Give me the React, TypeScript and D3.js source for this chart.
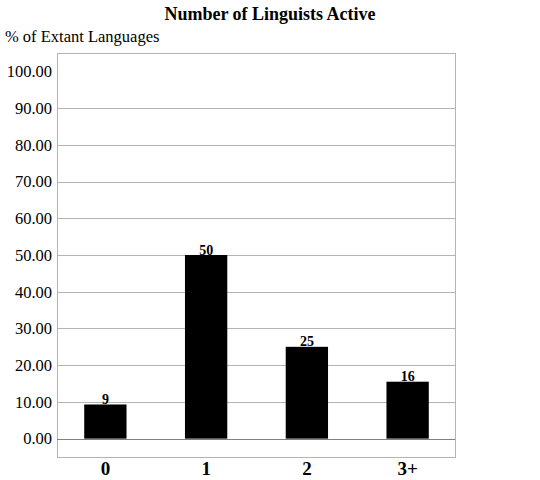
import { useEffect, useRef } from 'react';
import * as d3 from 'd3';

const categories = ['0', '1', '2', '3+'];
const values = [9.3, 50, 25, 15.5];
const yTicks = [0, 10, 20, 30, 40, 50, 60, 70, 80, 90, 100];

export default function App() {
  const svgRef = useRef<SVGSVGElement>(null);
  const width = 540;
  const height = 480;
  const left = 57;
  const right = 455;
  const top = 53;
  const bottom = 457;

  useEffect(() => {
    if (!svgRef.current) return;
    const svg = d3.select(svgRef.current);
    svg.selectAll('*').remove();

    const font = '"Liberation Serif", "Times New Roman", serif';

    const x = d3.scaleBand<string>()
      .domain(categories)
      .range([55, 458])
      .paddingInner(0.58)
      .paddingOuter(0.29);

    const y = d3.scaleLinear()
      .domain([-5, 105])
      .range([bottom, top]);

    // plot frame
    svg.append('rect')
      .attr('x', left + 0.5)
      .attr('y', top + 0.5)
      .attr('width', right - left)
      .attr('height', bottom - top)
      .attr('fill', 'white')
      .attr('stroke', '#b4b4b4')
      .attr('stroke-width', 1);

    // gridlines
    svg.append('g')
      .selectAll('line')
      .data(yTicks.filter(d => d > 0 && d < 100))
      .join('line')
      .attr('x1', left)
      .attr('x2', right)
      .attr('y1', d => Math.round(y(d)) + 0.5)
      .attr('y2', d => Math.round(y(d)) + 0.5)
      .attr('stroke', '#b4b4b4')
      .attr('stroke-width', 1);

    // tick labels
    svg.append('g')
      .selectAll('text')
      .data(yTicks)
      .join('text')
      .attr('x', 52)
      .attr('y', d => y(d))
      .attr('dy', '0.35em')
      .attr('text-anchor', 'end')
      .attr('font-family', font)
      .attr('font-size', 16.5)
      .attr('fill', 'black')
      .text(d => d3.format('.2f')(d));

    // bars
    svg.append('g')
      .selectAll('rect')
      .data(values)
      .join('rect')
      .attr('x', (d, i) => x(categories[i])!)
      .attr('width', x.bandwidth())
      .attr('y', d => y(d))
      .attr('height', d => y(0) - y(d))
      .attr('fill', 'black');

    // zero line
    svg.append('line')
      .attr('x1', left)
      .attr('x2', right)
      .attr('y1', Math.round(y(0)) + 0.5)
      .attr('y2', Math.round(y(0)) + 0.5)
      .attr('stroke', '#808080')
      .attr('stroke-width', 1);

    // value labels
    svg.append('g')
      .selectAll('text')
      .data(values)
      .join('text')
      .attr('x', (d, i) => x(categories[i])! + x.bandwidth() / 2)
      .attr('y', d => y(d) - 0.5)
      .attr('text-anchor', 'middle')
      .attr('font-family', font)
      .attr('font-weight', 'bold')
      .attr('font-size', 14)
      .attr('fill', 'black')
      .text(d => String(Math.round(d)));

    // category labels
    svg.append('g')
      .selectAll('text')
      .data(categories)
      .join('text')
      .attr('x', d => x(d)! + x.bandwidth() / 2)
      .attr('y', 475)
      .attr('text-anchor', 'middle')
      .attr('font-family', font)
      .attr('font-weight', 'bold')
      .attr('font-size', 19)
      .attr('fill', 'black')
      .text(d => d);

    // title
    svg.append('text')
      .attr('x', 270)
      .attr('y', 20)
      .attr('text-anchor', 'middle')
      .attr('font-family', font)
      .attr('font-weight', 'bold')
      .attr('font-size', 18)
      .attr('fill', 'black')
      .text('Number of Linguists Active');

    // y axis title
    svg.append('text')
      .attr('x', 5)
      .attr('y', 42)
      .attr('font-family', font)
      .attr('font-size', 16.5)
      .attr('fill', 'black')
      .text('% of Extant Languages');
  }, []);

  return (
    <svg
      ref={svgRef}
      width={width}
      height={height}
      viewBox={`0 0 ${width} ${height}`}
      style={{ position: 'absolute', left: 0, top: 0, background: 'white' }}
    />
  );
}
